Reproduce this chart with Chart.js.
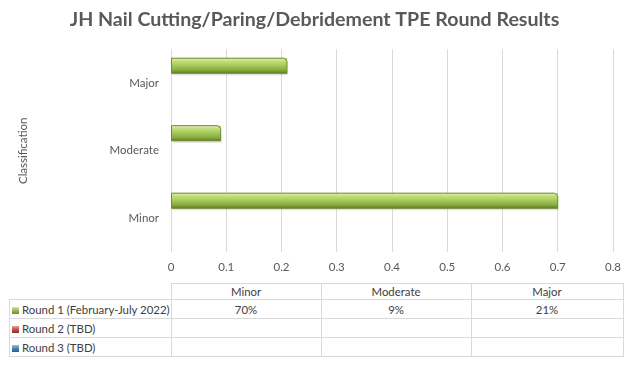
<!DOCTYPE html>
<html>
<head>
<meta charset="utf-8">
<script src="https://cdn.jsdelivr.net/npm/chart.js@4"></script>
<style>
  html, body { margin: 0; padding: 0; background: #fff; }
  #wrap { position: relative; width: 635px; height: 366px; overflow: hidden; }
  #chart { position: absolute; left: 0; top: 0; }
  #data-table {
    position: absolute; left: 9px; top: 283px;
    border-collapse: collapse; table-layout: fixed;
    font-family: Lato, "Open Sans", sans-serif; font-size: 11.4px; color: #404040;
  }
  #data-table td, #data-table th {
    border: 1px solid #d9d9d9; padding: 0; font-weight: normal;
    text-align: center; white-space: nowrap; overflow: hidden;
  }
  #data-table th { height: 15px; }
  #data-table td { height: 18px; }
  #data-table th.corner { border: none; }
  #data-table td.name { text-align: left; padding-left: 2px; }
  .key { display: inline-block; width: 7px; height: 7px; margin-right: 3px; vertical-align: 0px; }
</style>
</head>
<body>
<div id="wrap">
  <canvas id="chart" width="635" height="280"></canvas>
  <table id="data-table"></table>
</div>
<script>
const title = 'JH Nail Cutting/Paring/Debridement TPE Round Results';
const categories = ['Minor', 'Moderate', 'Major'];
const seriesNames = ['Round 1 (February-July 2022)', 'Round 2 (TBD)', 'Round 3 (TBD)'];
const round1 = [0.7, 0.09, 0.21];
const round2 = [null, null, null];
const round3 = [null, null, null];
const seriesColors = ['#9bbb59', '#c0504d', '#4f81bd'];
const keyLight = ['#d4ea9a', '#e8a09d', '#9dbde6'];
const keyDark = ['#6b8a2f', '#8c2a27', '#2c5a94'];
const xTicks = { min: 0, max: 0.8, step: 0.1 };

const textColor = '#595959';
const gridColor = '#d9d9d9';
const fontFamily = 'Lato, "Open Sans", sans-serif';

// bevelled look of the excel bars, drawn over the plain bars
const bevelPlugin = {
    id: 'bevel',
    afterDatasetsDraw(chart) {
        const ctx = chart.ctx;
        chart.data.datasets.forEach((ds, di) => {
            const meta = chart.getDatasetMeta(di);
            meta.data.forEach((bar, i) => {
                if (ds.data[i] == null) return;
                const top = bar.y - bar.height / 2;
                const bottom = bar.y + bar.height / 2;
                const left = Math.min(bar.base, bar.x);
                const right = Math.max(bar.base, bar.x);
                const g = ctx.createLinearGradient(0, top, 0, bottom);
                g.addColorStop(0, '#e2f1b4');
                g.addColorStop(0.18, '#c4e07f');
                g.addColorStop(0.45, '#a8cc5c');
                g.addColorStop(0.8, '#87aa3c');
                g.addColorStop(1, '#5d7a25');
                ctx.save();
                // soft shadow under the bar
                ctx.fillStyle = 'rgba(0,0,0,0.12)';
                ctx.fillRect(left + 1, bottom, right - left, 2);
                ctx.beginPath();
                ctx.moveTo(left, top);
                ctx.lineTo(right - 3, top);
                ctx.lineTo(right, top + 3);
                ctx.lineTo(right, bottom);
                ctx.lineTo(left, bottom);
                ctx.closePath();
                ctx.fillStyle = g;
                ctx.fill();
                ctx.strokeStyle = '#6f8c33';
                ctx.lineWidth = 1;
                ctx.stroke();
                ctx.restore();
            });
        });
    }
};

function fillTable($el) {
    const series = [round1, round2, round3];
    let content = '<tr><th class="corner" style="width:161px"></th>';
    categories.forEach((c, i) => {
        content += `<th style="width:${i === 2 ? 151 : 149}px">${c}</th>`;
    });
    content += '</tr>';
    series.forEach((s, si) => {
        content += `<tr><td class="name"><span class="key" style="background:linear-gradient(${keyLight[si]}, ${seriesColors[si]} 50%, ${keyDark[si]})"></span>${seriesNames[si]}</td>`;
        s.forEach(v => {
            content += `<td>${v == null ? '' : Math.round(v * 100) + '%'}</td>`;
        });
        content += '</tr>';
    });
    $el.innerHTML = content;
}

function displayBarChart($ctx) {
    new Chart($ctx, {
        type: 'bar',
        data: {
            labels: categories,
            datasets: [round1, round2, round3].map((d, i) => ({
                label: seriesNames[i],
                data: d,
                backgroundColor: seriesColors[i],
                categoryPercentage: 0.78,
                barPercentage: 0.86
            }))
        },
        options: {
            indexAxis: 'y',
            responsive: false,
            animation: false,
            layout: { padding: { top: 0, right: 22, left: 16, bottom: 0 } },
            plugins: {
                legend: { display: false },
                tooltip: { enabled: false },
                title: {
                    display: true,
                    text: title,
                    color: textColor,
                    font: { family: fontFamily, size: 19.6, weight: 'bold' },
                    padding: { top: 8, bottom: 18 }
                }
            },
            scales: {
                x: {
                    min: xTicks.min,
                    max: xTicks.max,
                    ticks: { stepSize: xTicks.step, color: textColor, padding: 8, font: { family: fontFamily, size: 11.5 } },
                    grid: { color: gridColor, drawTicks: false },
                    border: { display: false },
                    afterFit(scale) { scale.height = 28; }
                },
                y: {
                    reverse: true,
                    ticks: { color: textColor, padding: 12, font: { family: fontFamily, size: 11.5 } },
                    grid: { display: false, drawTicks: false },
                    border: { display: false },
                    title: {
                        display: true,
                        text: 'Classification',
                        color: textColor,
                        font: { family: fontFamily, size: 11.5 },
                        padding: { top: 0, bottom: 0 }
                    },
                    afterFit(scale) { scale.width = 155; }
                }
            }
        },
        plugins: [bevelPlugin]
    });
}

document.addEventListener('DOMContentLoaded', function() {
    fillTable(document.getElementById('data-table'));
    displayBarChart(document.getElementById('chart'));
}, false);
</script>
</body>
</html>
